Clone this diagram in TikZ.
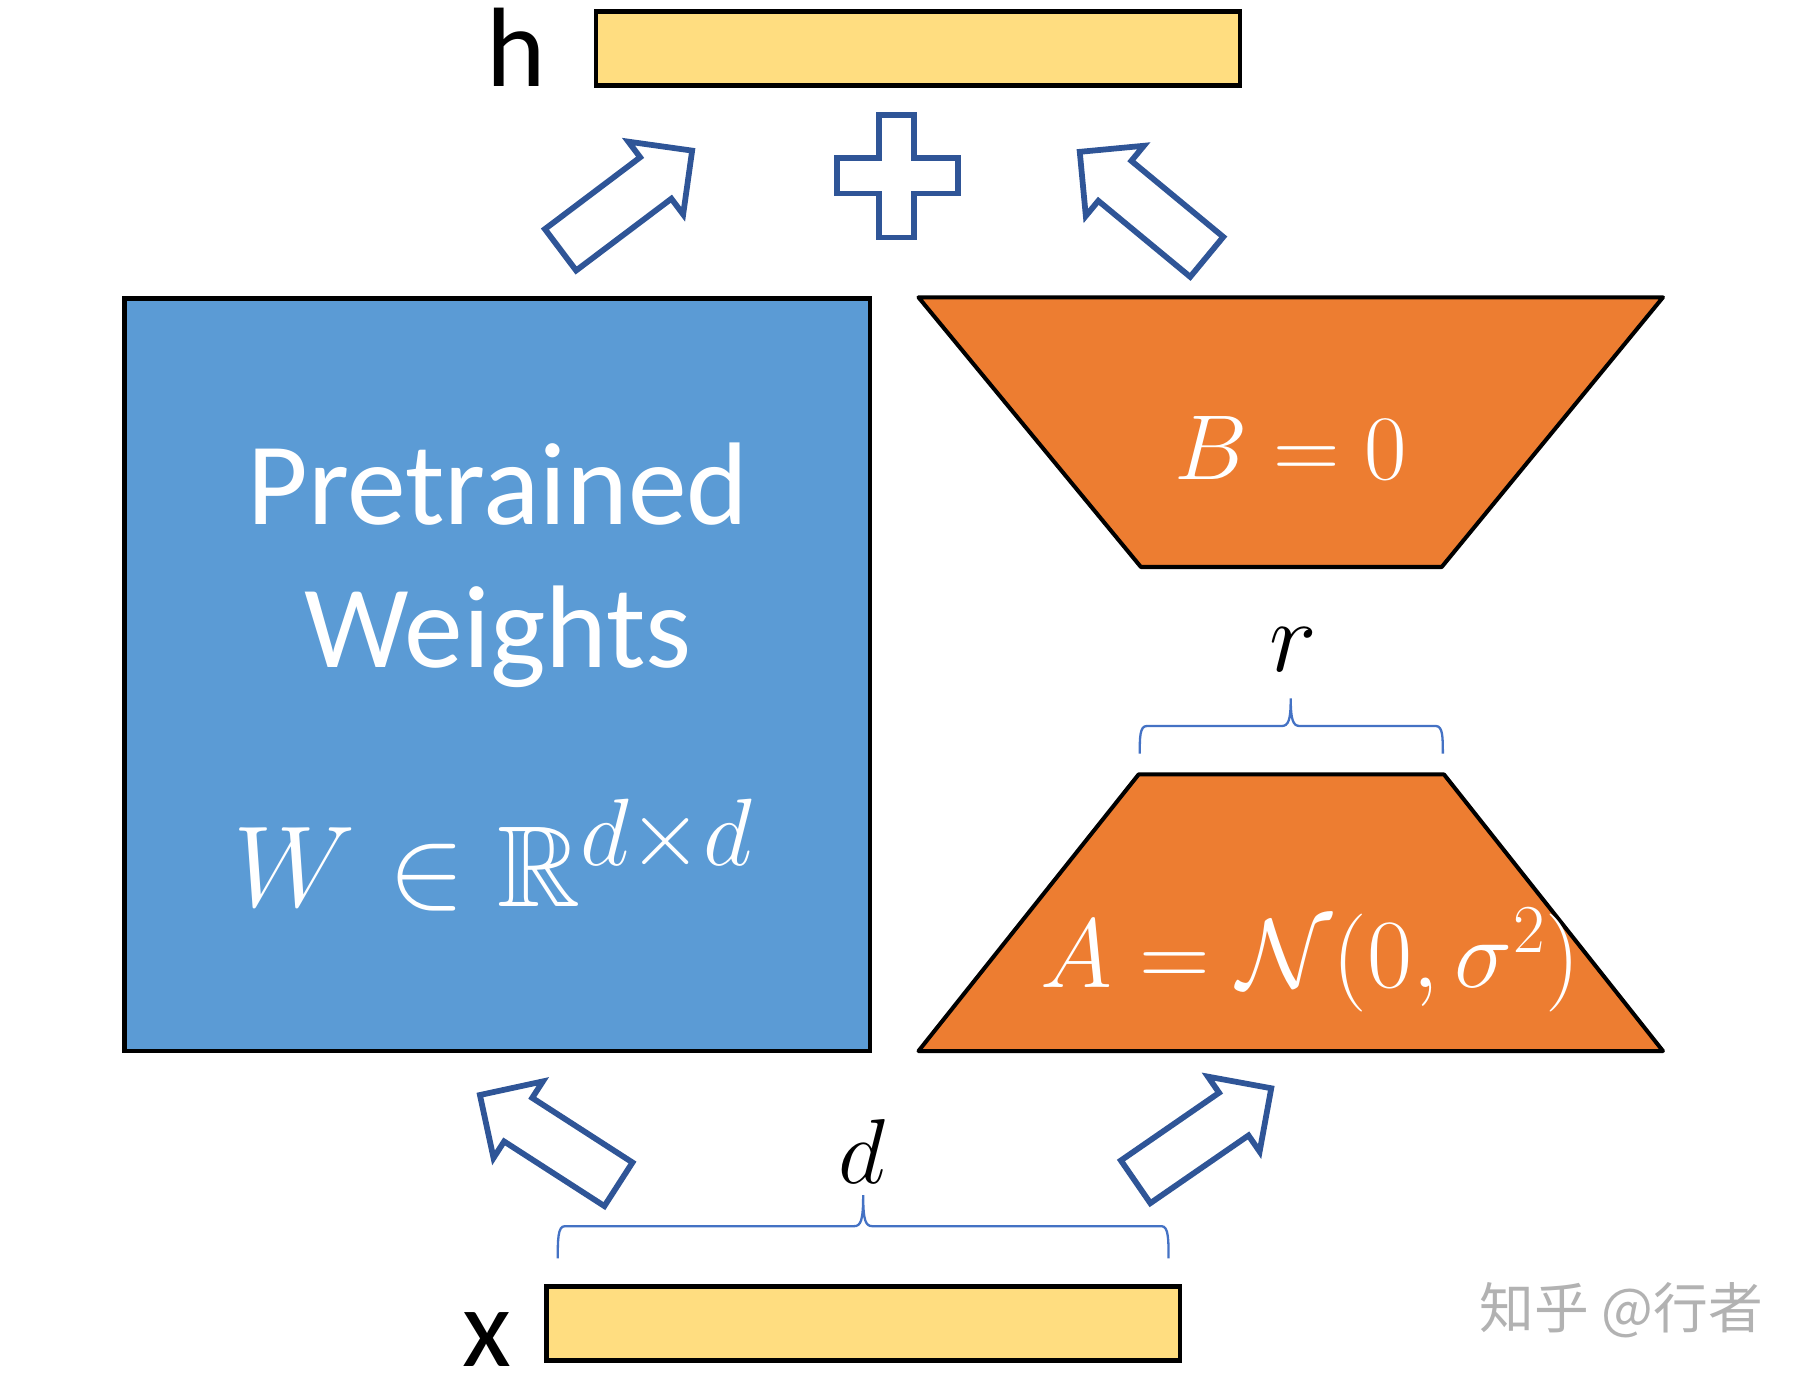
\documentclass[tikz,border=0pt]{standalone}
\usepackage{fix-cm}
\usepackage{amssymb}
\usepackage{fontspec}
\setmainfont{Carlito}
\newfontfamily\cjk{Noto Sans CJK SC}
\DeclareMathSizes{100}{100}{83}{60}
\usepackage{tikz}
\usetikzlibrary{positioning,shapes.arrows}
\definecolor{barfill}{HTML}{FFDD80}
\definecolor{weightfill}{HTML}{5B9BD5}
\definecolor{loafill}{HTML}{ED7D31}
\definecolor{arrowline}{HTML}{2F5597}
\definecolor{braceline}{HTML}{4472C4}
\tikzset{
  vecbar/.style = {rectangle, draw, fill=barfill, line width=4pt, inner sep=0pt, minimum height=64pt},
  blockarrow/.style = {
    single arrow, draw=arrowline, fill=white, line width=5pt, inner xsep=0pt, inner ysep=20pt,
    minimum height=143pt, single arrow tip angle=90,
    single arrow head extend=17pt, single arrow head indent=0pt
  },
  loablock/.style = {draw, fill=loafill, line width=3.5pt, line join=round},
  bracket/.style = {draw=braceline, line width=2pt},
  biglabel/.style = {inner sep=0pt, font=\fontsize{98}{118}\selectfont},
  namelabel/.style = {inner sep=0pt, anchor=base, text=white, font=\fontsize{102}{122}\selectfont},
  mathlabel/.style = {inner sep=0pt, anchor=base, text=white, font=\fontsize{85}{102}\selectfont},
  sizelabel/.style = {inner sep=0pt, anchor=base, font=\fontsize{88}{106}\selectfont}
}
\begin{document}
\begin{tikzpicture}[x=1pt, y=-1pt]
    \useasboundingbox (0,0) rectangle (1568,1198.5);

    \node[vecbar, minimum width=559pt] (hbar) at (796.5,42) {};
    \node[vecbar, minimum width=550pt] (xbar) at (749,1148.5) {};
    \node[biglabel, left=41pt of hbar, yshift=1pt] (hlabel) {h};
    \node[biglabel, left=28pt of xbar, yshift=-14pt] (xlabel) {x};

    \node[rectangle, draw, fill=weightfill, line width=4pt, inner sep=0pt,
      minimum width=647pt, minimum height=653pt] (weights) at (431.5,585.5) {};
    \node[namelabel] (pretrained) at (432,455) {Pretrained};
    \node[namelabel] (weightname) at (432,579) {Weights};
    \node[mathlabel, font=\fontsize{100}{120}\selectfont] (wdef) at (428,787)
      {$W\in\mathbb{R}^{d\times d}$};

    % the two low rank blocks
    \draw[loablock] (797,258) -- (1443,258) -- (1251,492) -- (990,492) -- cycle;
    \draw[loablock] (988,672) -- (1253,672) -- (1443,912) -- (797,912) -- cycle;
    \node[mathlabel, font=\fontsize{80}{96}\selectfont] (bdef) at (1120,416) {$B=0$};
    \node[mathlabel] (adef) at (1137,857) {$A=\mathcal{N}(0,\sigma^2)$};

    % plus sign
    \draw[arrowline, fill=white, line width=5pt] (763,100) -- (793,100) -- (793,137) -- (831,137)
      -- (831,168) -- (793,168) -- (793,206) -- (763,206) -- (763,168) -- (726,168)
      -- (726,137) -- (763,137) -- cycle;

    \node[blockarrow, rotate=37] (arrowtl) at (534.5,180.5) {};
    \node[blockarrow, rotate=140.4] (arrowtr) at (1000.7,184.5) {};
    \node[blockarrow, rotate=147.2] (arrowbl) at (486,995) {};
    \node[blockarrow, rotate=34.6] (arrowbr) at (1035,991.3) {};

    % braces
    \draw[bracket] (989,654) .. controls (989,640) and (989,630) .. (995,630) -- (1112,630)
      .. controls (1118,630) and (1120,625) .. (1120,606)
      .. controls (1120,625) and (1122,630) .. (1128,630) -- (1246,630)
      .. controls (1252,630) and (1252,640) .. (1252,654);
    \draw[bracket] (484,1092) .. controls (484,1076) and (484,1064) .. (490,1064) -- (741,1064)
      .. controls (747,1064) and (749,1059) .. (749,1037)
      .. controls (749,1059) and (751,1064) .. (757,1064) -- (1008,1064)
      .. controls (1014,1064) and (1014,1076) .. (1014,1092);
    \node[sizelabel] (rlabel) at (1122,583) {$r$};
    \node[sizelabel, font=\fontsize{80}{96}\selectfont] (dlabel) at (748,1027) {$d$};

    \node[inner sep=0pt, text=black!30, font=\cjk\fontsize{47.5}{57}\selectfont] (mark) at (1407,1137) {知乎 @行者};
\end{tikzpicture}
\end{document}
